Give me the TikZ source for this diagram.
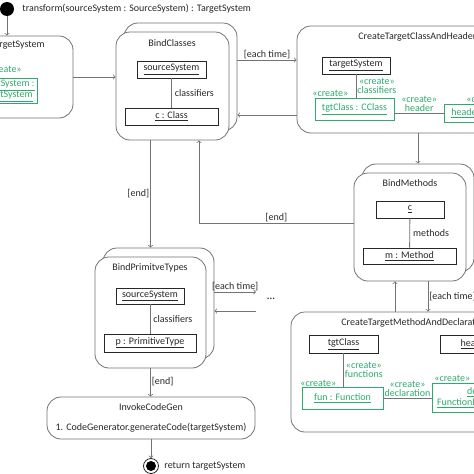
\documentclass[tikz,border=0pt]{standalone}
\usepackage{fontspec}
\setmainfont{Carlito}
\usepackage{tikz}
\usetikzlibrary{arrows}
\usetikzlibrary{positioning}
\definecolor{umlgreen}{RGB}{46,170,110}
\definecolor{umlgray}{RGB}{115,115,115}
\definecolor{umltext}{RGB}{40,40,40}

\begin{document}
\begin{tikzpicture}
          [x=1pt, y=-1pt, line width=0.8pt,
           every node/.style={font=\fontsize{10}{12}\selectfont, text=umltext},
           actbox/.style={draw=umlgray, fill=white, rounded corners=14pt, inner sep=0pt},
           objbox/.style={draw=umltext, fill=white, inner sep=0pt},
           newobj/.style={draw=umlgreen, fill=white, text=umlgreen, inner sep=0pt},
           stereo/.style={text=umlgreen, inner sep=1pt, align=center, font=\fontsize{10}{9}\selectfont},
           lbl/.style={inner sep=1pt},
           flow/.style={->, >=to, draw=umlgray},
           link/.style={draw=umlgray}]
          \useasboundingbox (0,0) rectangle (474,474);
          \clip (0,0) rectangle (474,474);

          % start and signature
          \node (init) [circle, fill=black, minimum size=14pt, inner sep=0pt] at (7,9) {};
          \node (sig) [lbl, anchor=west] at (21,9) {transform(sourceSystem : SourceSystem) : TargetSystem};

          % CreateTargetSystem
          \node (cts) [actbox, minimum width=113pt, minimum height=82pt] at (16.5,77) {};
          \node (ctsT) [lbl, anchor=east] at (46,45) {CreateTargetSystem};
          \node (ctsS) [stereo, anchor=east] at (23,69) {«create»};
          \node (tgtSys) [newobj, align=center, inner xsep=3pt, inner ysep=2pt, anchor=east,
                          font=\fontsize{10}{11}\selectfont] at (38,91) {\underline{targetSystem :}\\\underline{TargetSystem}};

          % BindClasses
          \node (bindclsB) [actbox, minimum width=113pt, minimum height=108pt] at (180.5,77) {};
          \node (bindcls) [actbox, minimum width=113pt, minimum height=108pt] at (172.5,86) {};
          \node (bindclsT) [lbl] at (172,43) {BindClasses};
          \node (srcSys) [objbox, minimum width=69pt, minimum height=17pt] at (171.5,69.5) {\underline{sourceSystem}};
          \node (cls) [objbox, minimum width=93pt, minimum height=17pt] at (171.5,116.5) {\underline{c : Class}};

          % CreateTargetClassAndHeader
          \node (ctcah) [actbox, minimum width=256pt, minimum height=107pt] at (425,79.5) {};
          \node (ctcahT) [lbl, anchor=west] at (357,37) {CreateTargetClassAndHeader};
          \node (tgtSys2) [objbox, minimum width=68pt, minimum height=17pt] at (356,65.5) {\underline{targetSystem}};
          \node (tgtCls) [newobj, minimum width=79pt, minimum height=22pt] at (354.5,109) {\underline{tgtClass : CClass}};
          \node (hdr) [newobj, minimum height=18pt, inner xsep=7pt, anchor=west] at (444,113) {\underline{header : CHeader}};
          \node (tgtClsS) [stereo, anchor=south west] at (311,98) {«create»};
          \node (hdrS) [stereo, anchor=west] at (465,99) {«create»};

          % BindMethods
          \node (bindmB) [actbox, minimum width=112pt, minimum height=108pt] at (418,218) {};
          \node (bindm) [actbox, minimum width=112pt, minimum height=108pt] at (410,227) {};
          \node (bindmT) [lbl] at (410,183) {BindMethods};
          \node (clsRef) [objbox, minimum width=68pt, minimum height=17pt] at (410,209.5) {\underline{c}};
          \node (meth) [objbox, minimum width=93pt, minimum height=16pt] at (409.5,256) {\underline{m : Method}};

          % BindPrimitveTypes
          \node (bindptB) [actbox, minimum width=111pt, minimum height=111pt] at (158.5,303.5) {};
          \node (bindpt) [actbox, minimum width=111pt, minimum height=111pt] at (150.5,312.5) {};
          \node (bindptT) [lbl] at (150,268) {BindPrimitveTypes};
          \node (srcSys3) [objbox, minimum width=68pt, minimum height=16pt] at (150,296) {\underline{sourceSystem}};
          \node (prim) [objbox, minimum width=92pt, minimum height=18pt] at (150,343) {\underline{p : PrimitiveType}};
          \node (dots) [lbl] at (271,299) {\textbf{...}};
          \coordinate (ptOut) at (256,292);
          \coordinate (ptIn) at (256,311);

          % InvokeCodeGen and end
          \node (icg) [actbox, minimum width=208pt, minimum height=42pt, align=center] at (151,418)
                {InvokeCodeGen\\[8pt]1. CodeGenerator.generateCode(targetSystem)};
          \node (final) [circle, draw=umltext, fill=white, minimum size=15pt, inner sep=0pt] at (151,466) {};
          \node (finalDot) [circle, fill=black, minimum size=10pt, inner sep=0pt] at (final) {};
          \node (ret) [lbl, anchor=west] at (163,466) {return targetSystem};

          % CreateTargetMethodAndDeclaration
          \node (ctmad) [actbox, minimum width=269pt, minimum height=120pt] at (425.5,372) {};
          \node (ctmadT) [lbl, anchor=west] at (340,323) {CreateTargetMethodAndDeclaration};
          \node (tgtCls2) [objbox, minimum width=69pt, minimum height=18pt] at (343.5,344) {\underline{tgtClass}};
          \node (hdr2) [objbox, minimum width=70pt, minimum height=18pt] at (475,344) {\underline{header}};
          \node (fun) [newobj, minimum width=81pt, minimum height=22pt] at (342.5,398) {\underline{fun : Function}};
          \node (decl) [newobj, align=center, minimum width=92pt, minimum height=29pt,
                        font=\fontsize{10}{11}\selectfont] at (478,397.5) {\underline{decl :}\\\underline{FunctionDeclaration}};
          \node (funS) [stereo, anchor=south west] at (299,388) {«create»};
          \node (declS) [stereo, anchor=west] at (433,378) {«create»};

          % links inside the activities
          \draw[link] (srcSys) -- node[lbl, right=2pt] {classifiers} (cls);
          \draw[link] (tgtSys2.south) -- node[stereo, right] {«create»\\classifiers} (tgtSys2.south |- tgtCls.north);
          \draw[link] (hdr.west) -- node[stereo, above] {«create»\\header} (hdr.west -| tgtCls.east);
          \draw[link] (clsRef) -- node[lbl, right=2pt] {methods} (meth);
          \draw[link] (srcSys3) -- node[lbl, right=2pt] {classifiers} (prim);
          \draw[link] (tgtCls2.south) -- node[stereo, right] {«create»\\functions} (tgtCls2.south |- fun.north);
          \draw[link] (fun.east) -- node[stereo, above] {«create»\\declaration} (fun.east -| decl.west);

          % control flow
          \coordinate (ctIn) at ([yshift=19.5pt]ctcah.west);
          \coordinate (ctOut) at ([yshift=-35.5pt]ctcah.west);
          \coordinate (endB) at ([xshift=26.5pt]bindcls.south);
          \coordinate (upX) at ([xshift=-15pt]bindm.south);
          \coordinate (downX) at ([xshift=18pt]bindm.south);

          \draw[flow] (init) -- (init |- cts.north);
          \draw[flow] (cts.east) -- (cts.east -| bindcls.west);
          \draw[flow] (bindclsB.east |- ctIn) -- node[lbl, above] {[each time]} (ctIn);
          \draw[flow] (ctOut) -- (bindclsB.east |- ctOut);
          \draw[flow] (bindmB.north |- ctcah.south) -- (bindmB.north);
          \draw[flow] ([yshift=4pt]bindm.west) -| node[lbl, above, pos=0.25] {[end]} (endB);
          \draw[flow] (bindpt.north |- bindcls.south) -- node[lbl, left] {[end]} (bindpt.north |- bindptB.north);
          \draw[flow] (bindptB.east |- ptOut) -- node[lbl, above] {[each time]} (ptOut);
          \draw[flow] (ptIn) -- (bindptB.east |- ptIn);
          \draw[flow] (bindpt.south) -- node[lbl, right, pos=0.45] {[end]} (bindpt.south |- icg.north);
          \draw[flow] (icg) -- (final);
          \draw[flow] (upX |- ctmad.north) -- (upX);
          \draw[flow] (downX) -- node[lbl, right] {[each time]} (downX |- ctmad.north);

        \end{tikzpicture}
\end{document}
